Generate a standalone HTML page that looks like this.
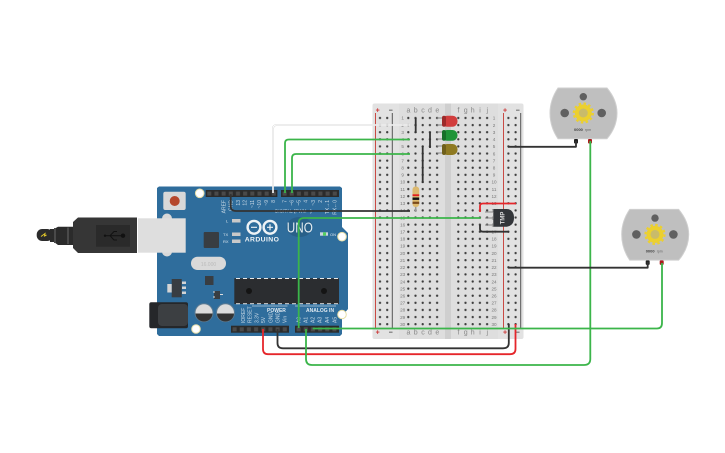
<!DOCTYPE html>
<html><head><meta charset="utf-8"><style>
html,body{margin:0;padding:0;background:#fff;width:725px;height:453px;overflow:hidden}
svg{display:block}
text{font-family:"Liberation Sans",sans-serif}
.n text{font-size:4.6px;fill:#777;text-anchor:middle}
.l text{font-size:7px;fill:#888;text-anchor:middle}
.p text{font-size:5px;fill:#c9d9e6;text-anchor:start}
.q text{font-size:5px;fill:#c9d9e6;text-anchor:end}
.w{fill:none;stroke-width:1.8;stroke-linejoin:round}
</style></head><body>
<svg width="725" height="453" viewBox="0 0 725 453" xmlns="http://www.w3.org/2000/svg">
<defs>
<pattern id="h" x="0" y="114.45" width="7.2" height="7.11" patternUnits="userSpaceOnUse"><circle cx="3.6" cy="3.55" r="1.15" fill="#3a3a3a"/></pattern>
<pattern id="pin" x="0" y="0" width="7.17" height="7" patternUnits="userSpaceOnUse"><rect width="7.17" height="7" fill="#2b2b2b"/><rect x="1.6" y="1.6" width="4" height="4" fill="#4a4a4a"/></pattern>
</defs>
<!-- breadboard -->
<rect x="372.500" y="103.500" width="151" height="235.500" rx="2" fill="#e2e2e2"/>
<rect x="399" y="103.500" width="99" height="235.500" fill="#dedede"/>
<rect x="445" y="103.500" width="6" height="235.500" fill="#cfcfcf"/>
<g transform="translate(2 0)"><rect x="374.400" y="114.450" width="14.400" height="213.300" fill="url(#h)"/></g>
<g transform="translate(0.800 0)"><rect x="504" y="114.450" width="14.400" height="213.300" fill="url(#h)"/></g>
<g transform="translate(1.500 0)"><rect x="403.200" y="114.450" width="36" height="213.300" fill="url(#h)"/></g>
<g transform="translate(1.100 0)"><rect x="453.600" y="114.450" width="36" height="213.300" fill="url(#h)"/></g>
<path d="M375.500 113V328M503.500 113V328" stroke="#c94a44" stroke-width="1"/>
<path d="M392.300 113V328M520.700 113V328" stroke="#555" stroke-width="1"/>
<g class="l">
<text x="377.700" y="112.500" style="fill:#c33;font-weight:bold">+</text><text x="390.700" y="112.500" style="fill:#444;font-weight:bold">−</text><text x="505" y="112.500" style="fill:#c33;font-weight:bold">+</text><text x="517.700" y="112.500" style="fill:#444;font-weight:bold">−</text>
<text x="377.700" y="334.500" style="fill:#c33;font-weight:bold">+</text><text x="390.700" y="334.500" style="fill:#444;font-weight:bold">−</text><text x="505" y="334.500" style="fill:#c33;font-weight:bold">+</text><text x="517.700" y="334.500" style="fill:#444;font-weight:bold">−</text>
<text x="408.500" y="112.500">a</text><text x="415.700" y="112.500">b</text><text x="423" y="112.500">c</text><text x="430" y="112.500">d</text><text x="437.300" y="112.500">e</text>
<text x="458.500" y="112.500">f</text><text x="465.700" y="112.500">g</text><text x="472.700" y="112.500">h</text><text x="480" y="112.500">i</text><text x="487.300" y="112.500">j</text>
<text x="408.500" y="334.500">a</text><text x="415.700" y="334.500">b</text><text x="423" y="334.500">c</text><text x="430" y="334.500">d</text><text x="437.300" y="334.500">e</text>
<text x="458.500" y="334.500">f</text><text x="465.700" y="334.500">g</text><text x="472.700" y="334.500">h</text><text x="480" y="334.500">i</text><text x="487.300" y="334.500">j</text>
</g>
<g class="n">
<text x="402.700" y="119.700">1</text><text x="402.700" y="126.800">2</text><text x="402.700" y="133.900">3</text><text x="402.700" y="141">4</text><text x="402.700" y="148.100">5</text><text x="402.700" y="155.300">6</text><text x="402.700" y="162.400">7</text><text x="402.700" y="169.500">8</text><text x="402.700" y="176.600">9</text><text x="402.700" y="183.700">10</text><text x="402.700" y="190.800">11</text><text x="402.700" y="197.900">12</text><text x="402.700" y="205">13</text><text x="402.700" y="212.100">14</text><text x="402.700" y="219.300">15</text><text x="402.700" y="226.400">16</text><text x="402.700" y="233.500">17</text><text x="402.700" y="240.600">18</text><text x="402.700" y="247.700">19</text><text x="402.700" y="254.800">20</text><text x="402.700" y="261.900">21</text><text x="402.700" y="269">22</text><text x="402.700" y="276.100">23</text><text x="402.700" y="283.300">24</text><text x="402.700" y="290.400">25</text><text x="402.700" y="297.500">26</text><text x="402.700" y="304.600">27</text><text x="402.700" y="311.700">28</text><text x="402.700" y="318.800">29</text><text x="402.700" y="325.900">30</text>
</g>
<g class="n">
<text x="494" y="119.700">1</text><text x="494" y="126.800">2</text><text x="494" y="133.900">3</text><text x="494" y="141">4</text><text x="494" y="148.100">5</text><text x="494" y="155.300">6</text><text x="494" y="162.400">7</text><text x="494" y="169.500">8</text><text x="494" y="176.600">9</text><text x="494" y="183.700">10</text><text x="494" y="190.800">11</text><text x="494" y="197.900">12</text><text x="494" y="205">13</text><text x="494" y="212.100">14</text><text x="494" y="219.300">15</text><text x="494" y="226.400">16</text><text x="494" y="233.500">17</text><text x="494" y="240.600">18</text><text x="494" y="247.700">19</text><text x="494" y="254.800">20</text><text x="494" y="261.900">21</text><text x="494" y="269">22</text><text x="494" y="276.100">23</text><text x="494" y="283.300">24</text><text x="494" y="290.400">25</text><text x="494" y="297.500">26</text><text x="494" y="304.600">27</text><text x="494" y="311.700">28</text><text x="494" y="318.800">29</text><text x="494" y="325.900">30</text>
</g>
<!-- short jumpers -->
<path d="M415.700 118V133M430 132V148M422.700 146V183" stroke="#333" stroke-width="1.800" fill="none"/>
<!-- LEDs -->
<path d="M437 118H443M437 125H443M437 132H443M437 139H443M437 146H443M437 153H443" stroke="#888" stroke-width="1"/>
<rect x="442" y="115.700" width="15.500" height="11" rx="5" fill="#d13d3d"/><rect x="442" y="115.700" width="4" height="11" rx="2" fill="#9c2a2a"/>
<rect x="442" y="130" width="15.500" height="10.700" rx="5" fill="#1f9438"/><rect x="442" y="130" width="4" height="10.700" rx="2" fill="#167029"/>
<rect x="442" y="144" width="15.500" height="11" rx="5" fill="#8f7a22"/><rect x="442" y="144" width="4" height="11" rx="2" fill="#6f5f1a"/>
<!-- resistor -->
<path d="M415.700 183V212" stroke="#999" stroke-width="1.500"/>
<rect x="412.500" y="186.500" width="6.700" height="20.500" rx="3" fill="#dcb96f"/>
<rect x="412.500" y="194.300" width="6.700" height="1.800" fill="#e02020"/><rect x="412.500" y="197.500" width="6.700" height="2.400" fill="#111"/><rect x="412.500" y="201.700" width="6.700" height="2.200" fill="#7a4a1c"/>
<!-- sensor -->
<path d="M485 212H493M485 218H493M485 225H493" stroke="#888" stroke-width="1"/>
<path d="M493.300 209H507Q514 210 514 217.800Q514 225.500 507 226.700H493.300Z" fill="#33363a"/>
<text x="503" y="218" font-size="6" font-weight="bold" fill="#ddd" text-anchor="middle" dominant-baseline="middle" transform="rotate(-90 503 218)">TMP</text>
<!-- motors -->
<g>
<path d="M558 88H607Q617 100 617 113Q617 127 607 138.700H558Q550 127 550 113Q550 100 558 88Z" fill="#bfbfbf" stroke="#cfcfcf" stroke-width="1"/>
<circle cx="583.300" cy="96.700" r="3.700" fill="#606060"/><circle cx="564.700" cy="113" r="4.300" fill="#606060"/><circle cx="601.700" cy="113" r="4.300" fill="#606060"/>
<circle cx="583.300" cy="113" r="8.500" fill="#ecd02e"/><circle cx="583.300" cy="113" r="9.500" fill="none" stroke="#ecd02e" stroke-width="2.200" stroke-dasharray="2.500 2.470"/><circle cx="583.300" cy="113" r="4.500" fill="#c9bb6a"/>
<text x="574" y="131" font-size="4" font-weight="bold" fill="#444">0000</text><text x="585" y="131" font-size="3.500" fill="#666">rpm</text>
<rect x="574" y="139" width="4" height="4.500" rx="1" fill="#222"/><rect x="588" y="139" width="4" height="4.500" rx="1" fill="#a81c1c"/>
</g>
<g transform="translate(71.700 121.400)">
<path d="M558 88H607Q617 100 617 113Q617 127 607 138.700H558Q550 127 550 113Q550 100 558 88Z" fill="#bfbfbf" stroke="#cfcfcf" stroke-width="1"/>
<circle cx="583.300" cy="96.700" r="3.700" fill="#606060"/><circle cx="564.700" cy="113" r="4.300" fill="#606060"/><circle cx="601.700" cy="113" r="4.300" fill="#606060"/>
<circle cx="583.300" cy="113" r="8.500" fill="#ecd02e"/><circle cx="583.300" cy="113" r="9.500" fill="none" stroke="#ecd02e" stroke-width="2.200" stroke-dasharray="2.500 2.470"/><circle cx="583.300" cy="113" r="4.500" fill="#c9bb6a"/>
<text x="574" y="131" font-size="4" font-weight="bold" fill="#444">0000</text><text x="585" y="131" font-size="3.500" fill="#666">rpm</text>
<rect x="574" y="139" width="4" height="4.500" rx="1" fill="#222"/><rect x="588" y="139" width="4" height="4.500" rx="1" fill="#a81c1c"/>
</g>
<!-- arduino board -->
<path d="M159 186.500H340L342 188V227L348 233V309L342 316V334L340 336H159L157 334V188Z" fill="#2f6d9c"/>
<g transform="translate(205.700 190)"><rect width="71.700" height="7" fill="url(#pin)"/></g>
<g transform="translate(281 190)"><rect width="58" height="7" fill="url(#pin)"/></g>
<g transform="translate(231 325.700)"><rect width="58" height="7" fill="url(#pin)"/></g>
<g transform="translate(295 325.700)"><rect width="44" height="7" fill="url(#pin)"/></g>
<circle cx="199.700" cy="193.300" r="4.300" fill="#fff" stroke="#e8dfa8" stroke-width="1"/>
<circle cx="342" cy="236.700" r="4.300" fill="#fff" stroke="#e8dfa8" stroke-width="1"/>
<circle cx="342" cy="314.500" r="4.300" fill="#fff" stroke="#e8dfa8" stroke-width="1"/>
<circle cx="196" cy="329" r="4.300" fill="#fff" stroke="#e8dfa8" stroke-width="1"/>
<rect x="163.300" y="191.700" width="22.400" height="18.300" rx="2" fill="#d8d8d8"/><circle cx="174.700" cy="201" r="5" fill="#b5472c"/>
<!-- USB -->
<rect x="162" y="213.500" width="10" height="43" rx="5" fill="#d8d8d8"/>
<rect x="138" y="218.300" width="47.700" height="34.400" fill="#dedede"/>
<path d="M73 222L78 217.500H137V253H78L73 248Z" fill="#363636"/>
<rect x="96" y="225" width="34" height="21.700" fill="#2a2a2a"/>
<path d="M105 235.700H122M110 235.700L114 231.500H117M110 235.700L114 240H117" stroke="#111" stroke-width="1" fill="none"/><circle cx="123" cy="235.700" r="2.200" fill="#111"/><circle cx="105" cy="235.700" r="1.200" fill="#111"/>
<path d="M50 229H54L58 226.700H73V245H58L54 242H50Z" fill="#2b2b2b"/>
<rect x="36.700" y="229" width="16" height="12" rx="5.500" fill="#2b2b2b"/>
<path d="M41 236.500L45 233.500L44.500 236L46.500 235" stroke="#e3c82a" stroke-width="1" fill="none"/>
<path d="M55 228V243M68 227.500V244" stroke="#4a4a4a" stroke-width="2"/>
<!-- chips -->
<rect x="203.700" y="232" width="15.300" height="16" rx="1" fill="#383d42"/>
<rect x="191" y="256.700" width="35" height="13.300" rx="6.500" fill="#d9d9d9"/>
<text x="208.500" y="266" font-size="5" fill="#bbb" text-anchor="middle">16.000</text>
<rect x="234.300" y="278.300" width="104.700" height="25.700" fill="#2b2d30"/>
<path d="M236 278.500H338M236 303.800H338" stroke="#e8e8e8" stroke-width="1" stroke-dasharray="4 3"/>
<circle cx="249" cy="291" r="3" fill="#141414"/><circle cx="324" cy="291" r="3" fill="#141414"/>
<rect x="205" y="276" width="8.500" height="9" fill="#383d42"/>
<rect x="171.700" y="279" width="10" height="18.300" fill="#383d42"/><rect x="167.300" y="284" width="4.400" height="8.500" fill="#d4d4d4"/>
<path d="M182 281.500H186V284H182ZM182 286.500H186V289H182ZM182 291.500H186V294H182Z" fill="#d4d4d4"/>
<rect x="214" y="291" width="6" height="8" fill="#383d42"/>
<path d="M213 292H215M213 297H215M220 294.500H223" stroke="#ddd"/>
<rect x="149.300" y="302.300" width="38.700" height="26" rx="2" fill="#25272a"/><rect x="158" y="304" width="30" height="22" rx="4" fill="#3c3f42"/>
<circle cx="204" cy="312.700" r="9.500" fill="#5d7b92"/><circle cx="204" cy="312.700" r="8.500" fill="#dcdcdc"/><path d="M195.500 313.500A8.500 8 0 0 0 212.500 313.500Z" fill="#333"/>
<circle cx="225.500" cy="312.700" r="9.500" fill="#5d7b92"/><circle cx="225.500" cy="312.700" r="8.500" fill="#dcdcdc"/><path d="M217 313.500A8.500 8 0 0 0 234 313.500Z" fill="#333"/>
<!-- logo -->
<ellipse cx="299.500" cy="227" rx="13" ry="10" fill="#296089"/>
<circle cx="254" cy="227.300" r="6.400" fill="none" stroke="#eef3f6" stroke-width="2.400"/>
<circle cx="270" cy="227.300" r="6.400" fill="none" stroke="#eef3f6" stroke-width="2.400"/>
<path d="M251 227.300H257M267 227.300H273M270 224.300V230.300" stroke="#eef3f6" stroke-width="1.200"/>
<text x="262" y="241.500" font-size="6.800" font-weight="bold" fill="#eef3f6" text-anchor="middle" letter-spacing=".4">ARDUINO</text>
<text x="299.800" y="232.500" font-size="15" fill="#e6eef3" text-anchor="middle" textLength="26" lengthAdjust="spacingAndGlyphs">UNO</text>
<rect x="320" y="232.300" width="8" height="3.400" fill="#c9d6de"/><rect x="323" y="232.300" width="3" height="3.400" fill="#55d05f"/>
<text x="330" y="235.800" font-size="4" fill="#dce6ee">ON</text>
<rect x="232" y="219" width="8.500" height="3.500" fill="#c9c9c9"/><rect x="232" y="232.500" width="8.500" height="3.500" fill="#c9c9c9"/><rect x="232" y="239.500" width="8.500" height="3.500" fill="#c9c9c9"/>
<g font-size="4" fill="#dce6ee"><text x="226" y="222.500">L</text><text x="223" y="236">TX</text><text x="223" y="243">RX</text></g>
<path d="M252 306H287.500M295 306H336" stroke="#b9cddd" stroke-width=".7"/>
<text x="267" y="312" font-size="5" font-weight="bold" fill="#dfe9f0">POWER</text>
<text x="306" y="312" font-size="5" font-weight="bold" fill="#dfe9f0">ANALOG IN</text>
<text x="275" y="212.500" font-size="4.500" font-weight="bold" fill="#c9d9e6">DIGITAL (PWM ~)</text>
<g class="q">
<text transform="translate(225.700 200) rotate(-90)">AREF</text><text transform="translate(232.700 200) rotate(-90)">GND</text><text transform="translate(240 200) rotate(-90)">13</text><text transform="translate(246.700 200) rotate(-90)">12</text><text transform="translate(254 200) rotate(-90)">~11</text><text transform="translate(261 200) rotate(-90)">~10</text><text transform="translate(268 200) rotate(-90)">~9</text><text transform="translate(275 200) rotate(-90)">8</text>
<text transform="translate(286.700 200) rotate(-90)">7</text><text transform="translate(293.700 200) rotate(-90)">~6</text><text transform="translate(300.400 200) rotate(-90)">~5</text><text transform="translate(307.700 200) rotate(-90)">4</text><text transform="translate(315 200) rotate(-90)">~3</text><text transform="translate(322 200) rotate(-90)">2</text><text transform="translate(329 200) rotate(-90)">TX→1</text><text transform="translate(336.300 200) rotate(-90)">RX←0</text>
</g>
<g class="p">
<text transform="translate(245 323) rotate(-90)">IOREF</text><text transform="translate(251.700 323) rotate(-90)">RESET</text><text transform="translate(258.400 323) rotate(-90)">3.3V</text><text transform="translate(265 323) rotate(-90)">5V</text><text transform="translate(272.300 323) rotate(-90)">GND</text><text transform="translate(279.400 323) rotate(-90)">GND</text><text transform="translate(286.700 323) rotate(-90)">Vin</text>
<text transform="translate(300.400 323) rotate(-90)">A0</text><text transform="translate(307.700 323) rotate(-90)">A1</text><text transform="translate(314.700 323) rotate(-90)">A2</text><text transform="translate(321.700 323) rotate(-90)">A3</text><text transform="translate(329 323) rotate(-90)">A4</text><text transform="translate(336.300 323) rotate(-90)">A5</text>
</g>
<!-- wires -->
<path class="w" d="M273 193V129Q273 125 277 125H410" stroke="#cfcfcf"/>
<path class="w" d="M273 193V129Q273 125 277 125H410" stroke="#fff" style="stroke-width:1"/>
<path class="w" d="M285 193V143Q285 139.500 289 139.500H410" stroke="#3bb54a"/>
<path class="w" d="M292 193V158Q292 154 296 154H410" stroke="#3bb54a"/>
<path class="w" d="M230.700 194V206Q230.700 211 236 211H410" stroke="#333"/>
<path class="w" d="M298.700 328V223Q298.700 218 304 218H480.700" stroke="#3bb54a"/>
<path class="w" d="M263 329V349Q263 354.200 268 354.200H510Q515.500 354.200 515.500 349V324" stroke="#e5262b"/>
<path class="w" d="M277.500 329V343Q277.500 348.300 283 348.300H503Q508.800 348.300 508.800 343V324" stroke="#333"/>
<path class="w" d="M306 329V359Q306 365 312 365H584Q590.300 365 590.300 359V141" stroke="#3bb54a"/>
<path class="w" d="M312.700 328.500H657Q662 328.500 662 323V263" stroke="#3bb54a"/>
<path class="w" d="M480 212V206Q480 203.500 483 203.500H516" stroke="#e5262b"/>
<path class="w" d="M480 225V229Q480 231.700 483 231.700H509" stroke="#333"/>
<path class="w" d="M508 146.800H576V141" stroke="#333"/>
<path class="w" d="M508 267.700H647.700V262" stroke="#333"/>
</svg>
</body></html>
